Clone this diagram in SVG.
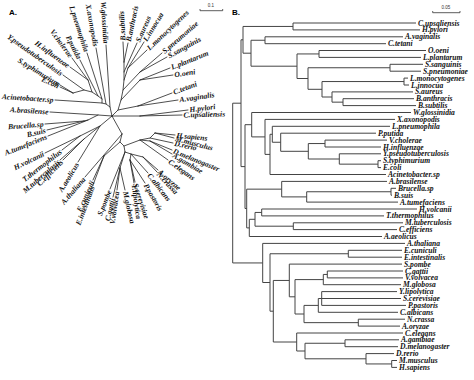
<svg xmlns="http://www.w3.org/2000/svg" width="474" height="380" viewBox="0 0 474 380">
<style>
.t{font-family:"Liberation Serif","Times New Roman",serif;font-style:italic;font-weight:bold;fill:#111;dominant-baseline:central}
.ta{font-size:7.6px}
.tb{font-size:7.6px}
.e{text-anchor:end}
.pa{fill:none;stroke:#222;stroke-width:0.8;stroke-linecap:round}
.pb{fill:none;stroke:#444;stroke-width:1}
.hd{font-family:"Liberation Sans",Arial,sans-serif;font-weight:bold;font-size:8px;fill:#000}
.sc{font-family:"Liberation Sans",Arial,sans-serif;font-size:4.5px;fill:#333;text-anchor:middle}
.sb{fill:none;stroke:#333;stroke-width:0.8}
</style>
<rect width="474" height="380" fill="#fff"/>
<text class="hd" x="9" y="15">A.</text>
<text class="hd" x="232" y="15">B.</text>
<g id="scale-a"><path class="sb" d="M200 9V10.7H222.7V9"/><text class="sc" x="211" y="7">0.1</text></g>
<g id="scale-b"><path class="sb" d="M432.7 11V12.7H460V11"/><text class="sc" x="446" y="9">0.05</text></g>

<g id="connectors-a">
<path class="pa" d="M112 116L122 134M112 116L140 116M140 116L182 115M140 116L188 110
M112 116L118 110L138 106M138 106L178 100M138 106L172 93
M118 110L121 100L140 80M140 80L173 75M140 80L170 68
M121 100L123 90L140 72M140 72L167 57M140 72L162 53
M123 90L124 80L128 68M128 68L147 50M128 68L144 42
M124 80L124 72L137 43M124 72L124 62M124 62L128 43M124 62L123 42
M112 116L110 107L106 45M110 107L106 104L96 48M106 104L102 103L55 100M102 103L102 99L87 53M102 99L98 96L80 60M98 96L92 92L88 80M88 80L72 58M88 80L70 67M92 92L84 90L63 75M84 90L73 93M73 93L60 85M73 93L60 87
M112 116L98 115L50 112M98 115L88 120L48 136M88 120L84 121M84 121L45 124M84 121L47 130
M112 116L100 126L78 162M100 126L80 136M80 136L45 153M80 136L62 150M100 126L84 139M84 139L60 160M84 139L63 160
M122 134L85 177M122 134L120 142L104 156M104 156L93 180M104 156L93 185
M120 142L124 146L125 152L110 189M125 152L120 168M120 168L113 197M120 168L117 190M120 168L125 190
M125 152L131 154L148 173M131 154L130 160M130 160L134 183M130 160L135 182M130 160L145 183M131 154L143 157M143 157L157 172M143 157L158 170
M124 146L140 140L168 160M140 140L150 141M150 141L172 154M150 141L172 150M140 140L150 138L173 143M150 138L155 133M155 133L174 138M155 133L175 135"/>
</g>

<g id="connectors-b">
<path class="pb" d="M232.7 103.2V262.95M232.7 103.2H241M232.7 262.95H262.7
M241 39.8V166.6M241 39.8H243M241 166.6H245
M243 26.45V53.2M243 26.45H293M243 53.2H251
M293 23V29.9M293 23H416M293 29.9H420
M251 40.25V66.2M251 40.25H265M251 66.2H297
M265 36.8V43.7M265 36.8H403M265 43.7H386
M297 53.95V78.5M297 53.95H319M297 78.5H308
M319 50.5V57.4M319 50.5H426M319 57.4H421
M308 67.75V89.3M308 67.75H390M308 89.3H322
M390 64.3V71.2M390 64.3H423M390 71.2H421
M322 81.55V97M322 81.55H404M322 97H332
M404 78.1V85M404 78.1H408M404 85H409
M332 91.9V102.15M332 91.9H413M332 102.15H343
M343 98.7V105.6M343 98.7H414M343 105.6H416
M245 124.7V208.5M245 124.7H251.7M245 208.5H246.7
M251.7 112.5V136.9M251.7 112.5H411M251.7 136.9H265
M265 119.4V154.4M265 119.4H395M265 154.4H270
M270 134.3V174.5M270 134.3H272.3M270 174.5H386
M272.3 126.3V142.25M272.3 126.3H390M272.3 142.25H280.7
M280.7 133.2V151.3M280.7 133.2H376M280.7 151.3H308.3
M308.3 143.55V159M308.3 143.55H325M308.3 159H339.3
M325 140.1V147M325 140.1H387M325 147H381
M339.3 153.8V164.15M339.3 153.8H381M339.3 164.15H378
M378 160.7V167.6M378 160.7H381M378 167.6H381
M246.7 189.15V227.9M246.7 189.15H281.7M246.7 227.9H249.3
M281.7 181.4V196.9M281.7 181.4H387M281.7 196.9H306.7
M306.7 191.75V202.1M306.7 191.75H391M306.7 202.1H398
M391 188.3V195.2M391 188.3H396M391 195.2H392
M249.3 219.3V236.5M249.3 219.3H255M249.3 236.5H382
M255 212.45V226.2M255 212.45H261.7M255 226.2H293.3
M261.7 209V215.9M261.7 209H417M261.7 215.9H384
M293.3 222.8V229.6M293.3 222.8H403M293.3 229.6H397
M262.7 243.4V282.5M262.7 243.4H405M262.7 282.5H270
M270 253.75V311.2M270 253.75H348.3M270 311.2H273.3
M348.3 250.3V257.2M348.3 250.3H402M348.3 257.2H402
M273.3 280.45V342M273.3 280.45H289.3M273.3 342H296.7
M289.3 264.1V296.8M289.3 264.1H402M289.3 296.8H295
M295 279.6V314M295 279.6H323.3M295 314H304
M323.3 274.45V284.7M323.3 274.45H327.3M323.3 284.7H401
M327.3 271V277.9M327.3 271H403M327.3 277.9H403
M304 305.4V322.65M304 305.4H318.3M304 322.65H358.3
M318.3 298.5V312.3M318.3 298.5H321.7M318.3 312.3H398
M321.7 291.6V305.4M321.7 291.6H397M321.7 298.5H401M321.7 305.4H406
M358.3 319.2V326.1M358.3 319.2H405M358.3 326.1H400
M296.7 333V351M296.7 333H403M296.7 351H305
M305 343.25V358.8M305 343.25H345M305 358.8H366
M345 339.8V346.7M345 339.8H399M345 346.7H398
M366 353.6V363.95M366 353.6H394M366 363.95H391.7
M391.7 360.5V367.4M391.7 360.5H397M391.7 367.4H397"/>
</g>

<g id="labels-a" class="t ta">
<g id="a-Cups" transform="translate(182,115) rotate(-1.4)"><text x="1.5">C.upsaliensis</text></g>
<g id="a-Hpyl" transform="translate(188,110) rotate(-7.1)"><text x="1.5">H.pylori</text></g>
<g id="a-Avag" transform="translate(178,100) rotate(-8.5)"><text x="1.5">A.vaginalis</text></g>
<g id="a-Ctet" transform="translate(172,93) rotate(-20.9)"><text x="1.5">C.tetani</text></g>
<g id="a-Ooen" transform="translate(173,75) rotate(-8.6)"><text x="1.5">O.oeni</text></g>
<g id="a-Lpla" transform="translate(170,68) rotate(-21.8)"><text x="1.5">L.plantarum</text></g>
<g id="a-Ssan" transform="translate(167,57) rotate(-29)"><text x="1.5">S.sanguinis</text></g>
<g id="a-Spne" transform="translate(162,53) rotate(-40.8)"><text x="1.5">S.pneumoniae</text></g>
<g id="a-Lmon" transform="translate(147,50) rotate(-43.5)"><text x="1.5">L.monocytogenes</text></g>
<g id="a-Linn" transform="translate(144,42) rotate(-58.4)"><text x="1.5">L.innocua</text></g>
<g id="a-Saur" transform="translate(137,43) rotate(-65.9)"><text x="1.5">S.aureus</text></g>
<g id="a-Bant" transform="translate(128,43) rotate(-78.1)"><text x="1.5">B.anthracis</text></g>
<g id="a-Bsub" transform="translate(123,42) rotate(-92.9)"><text x="1.5">B.subtilis</text></g>
<g id="a-Wglo" transform="translate(106,45) rotate(86.5)"><text class="e" x="-1.5">W.glossinidia</text></g>
<g id="a-Xaxo" transform="translate(96,48) rotate(79.9)"><text class="e" x="-1.5">X.axonopodis</text></g>
<g id="a-Acin" transform="translate(55,100) rotate(3.7)"><text class="e" x="-1.5">Acinetobacter.sp</text></g>
<g id="a-Lpne" transform="translate(87,53) rotate(72)"><text class="e" x="-1.5">L.pneumophila</text></g>
<g id="a-Pput" transform="translate(80,60) rotate(63.4)"><text class="e" x="-1.5">P.putida</text></g>
<g id="a-Vcho" transform="translate(72,58) rotate(54)"><text class="e" x="-1.5">V.cholerae</text></g>
<g id="a-Hinf" transform="translate(70,67) rotate(35.8)"><text class="e" x="-1.5">H.influenzae</text></g>
<g id="a-Ypse" transform="translate(63,75) rotate(35.5)"><text class="e" x="-1.5">Y.pseudotuberculosis</text></g>
<g id="a-Styp" transform="translate(60,85) rotate(31.6)"><text class="e" x="-1.5">S.typhimurium</text></g>
<g id="a-Ecol" transform="translate(60,87) rotate(24.8)"><text class="e" x="-1.5">E.coli</text></g>
<g id="a-Abra" transform="translate(50,112) rotate(3.6)"><text class="e" x="-1.5">A.brasilense</text></g>
<g id="a-Bruc" transform="translate(45,124) rotate(-4.4)"><text class="e" x="-1.5">Brucella.sp</text></g>
<g id="a-Bsui" transform="translate(47,130) rotate(-13.7)"><text class="e" x="-1.5">B.suis</text></g>
<g id="a-Atum" transform="translate(48,136) rotate(-21.8)"><text class="e" x="-1.5">A.tumefaciens</text></g>
<g id="a-Hvol" transform="translate(45,153) rotate(-25.9)"><text class="e" x="-1.5">H.volcanii</text></g>
<g id="a-Tthe" transform="translate(62,150) rotate(-37.9)"><text class="e" x="-1.5">T.thermophilus</text></g>
<g id="a-Mtub" transform="translate(60,160) rotate(-41.2)"><text class="e" x="-1.5">M.tuberculosis</text></g>
<g id="a-Ceff" transform="translate(63,160) rotate(-45)"><text class="e" x="-1.5">C.efficiens</text></g>
<g id="a-Aaeo" transform="translate(78,162) rotate(-58.6)"><text class="e" x="-1.5">A.aeolicus</text></g>
<g id="a-Atha" transform="translate(85,177) rotate(-49.3)"><text class="e" x="-1.5">A.thaliana</text></g>
<g id="a-Ecun" transform="translate(93,180) rotate(-65.4)"><text class="e" x="-1.5">E.cuniculi</text></g>
<g id="a-Eint" transform="translate(93,185) rotate(-69.2)"><text class="e" x="-1.5">E.intestinalis</text></g>
<g id="a-Spom" transform="translate(110,189) rotate(-67.9)"><text class="e" x="-1.5">S.pombe</text></g>
<g id="a-Cgat" transform="translate(113,197) rotate(-76.4)"><text class="e" x="-1.5">C.gattii</text></g>
<g id="a-Vvol" transform="translate(117,190) rotate(-82.2)"><text class="e" x="-1.5">V.volvacea</text></g>
<g id="a-Mglo" transform="translate(125,190) rotate(77.2)"><text x="1.5">M.globosa</text></g>
<g id="a-Ylip" transform="translate(134,183) rotate(82.6)"><text x="1.5">Y.lipolytica</text></g>
<g id="a-Scer" transform="translate(135,182) rotate(72)"><text x="1.5">S.cerevisiae</text></g>
<g id="a-Ppas" transform="translate(145,183) rotate(60)"><text x="1.5">P.pastoris</text></g>
<g id="a-Calb" transform="translate(148,173) rotate(52)"><text x="1.5">C.albicans</text></g>
<g id="a-Ncra" transform="translate(157,172) rotate(47)"><text x="1.5">N.crassa</text></g>
<g id="a-Aory" transform="translate(158,170) rotate(40.9)"><text x="1.5">A.oryzae</text></g>
<g id="a-Cele" transform="translate(168,160) rotate(35.5)"><text x="1.5">C.elegans</text></g>
<g id="a-Agam" transform="translate(172,154) rotate(30.6)"><text x="1.5">A.gambiae</text></g>
<g id="a-Dmel" transform="translate(172,150) rotate(22.2)"><text x="1.5">D.melanogaster</text></g>
<g id="a-Drer" transform="translate(173,143) rotate(12.3)"><text x="1.5">D.rerio</text></g>
<g id="a-Mmus" transform="translate(174,138) rotate(14.7)"><text x="1.5">M.musculus</text></g>
<g id="a-Hsap" transform="translate(175,135) rotate(5.7)"><text x="1.5">H.sapiens</text></g>
</g>

<g id="labels-b" class="t tb">
<g id="b-Cups"><text x="418" y="23">C.upsaliensis</text></g>
<g id="b-Hpyl"><text x="422" y="29.9">H.pylori</text></g>
<g id="b-Avag"><text x="405" y="36.8">A.vaginalis</text></g>
<g id="b-Ctet"><text x="388" y="43.7">C.tetani</text></g>
<g id="b-Ooen"><text x="428" y="50.5">O.oeni</text></g>
<g id="b-Lpla"><text x="423" y="57.4">L.plantarum</text></g>
<g id="b-Ssan"><text x="425" y="64.3">S.sanguinis</text></g>
<g id="b-Spne"><text x="423" y="71.2">S.pneumoniae</text></g>
<g id="b-Lmon"><text x="410" y="78.1">L.monocytogenes</text></g>
<g id="b-Linn"><text x="411" y="85">L.innocua</text></g>
<g id="b-Saur"><text x="415" y="91.9">S.aureus</text></g>
<g id="b-Bant"><text x="416" y="98.7">B.anthracis</text></g>
<g id="b-Bsub"><text x="418" y="105.6">B.subtilis</text></g>
<g id="b-Wglo"><text x="413" y="112.5">W.glossinidia</text></g>
<g id="b-Xaxo"><text x="397" y="119.4">X.axonopodis</text></g>
<g id="b-Lpne"><text x="392" y="126.3">L.pneumophila</text></g>
<g id="b-Pput"><text x="378" y="133.2">P.putida</text></g>
<g id="b-Vcho"><text x="389" y="140.1">V.cholerae</text></g>
<g id="b-Hinf"><text x="383" y="147">H.influenzae</text></g>
<g id="b-Ypse"><text x="383" y="153.8">Y.pseudotuberculosis</text></g>
<g id="b-Styp"><text x="383" y="160.7">S.typhimurium</text></g>
<g id="b-Ecol"><text x="383" y="167.6">E.coli</text></g>
<g id="b-Acin"><text x="388" y="174.5">Acinetobacter.sp</text></g>
<g id="b-Abra"><text x="389" y="181.4">A.brasilense</text></g>
<g id="b-Bruc"><text x="398" y="188.3">Brucella.sp</text></g>
<g id="b-Bsui"><text x="394" y="195.2">B.suis</text></g>
<g id="b-Atum"><text x="400" y="202.1">A.tumefaciens</text></g>
<g id="b-Hvol"><text x="419" y="209">H.volcanii</text></g>
<g id="b-Tthe"><text x="386" y="215.9">T.thermophilus</text></g>
<g id="b-Mtub"><text x="405" y="222.8">M.tuberculosis</text></g>
<g id="b-Ceff"><text x="399" y="229.6">C.efficiens</text></g>
<g id="b-Aaeo"><text x="384" y="236.5">A.aeolicus</text></g>
<g id="b-Atha"><text x="407" y="243.4">A.thaliana</text></g>
<g id="b-Ecun"><text x="404" y="250.3">E.cuniculi</text></g>
<g id="b-Eint"><text x="404" y="257.2">E.intestinalis</text></g>
<g id="b-Spom"><text x="404" y="264.1">S.pombe</text></g>
<g id="b-Cgat"><text x="405" y="271">C.gattii</text></g>
<g id="b-Vvol"><text x="405" y="277.9">V.volvacea</text></g>
<g id="b-Mglo"><text x="403" y="284.7">M.globosa</text></g>
<g id="b-Ylip"><text x="399" y="291.6">Y.lipolytica</text></g>
<g id="b-Scer"><text x="403" y="298.5">S.cerevisiae</text></g>
<g id="b-Ppas"><text x="408" y="305.4">P.pastoris</text></g>
<g id="b-Calb"><text x="400" y="312.3">C.albicans</text></g>
<g id="b-Ncra"><text x="407" y="319.2">N.crassa</text></g>
<g id="b-Aory"><text x="402" y="326.1">A.oryzae</text></g>
<g id="b-Cele"><text x="405" y="333">C.elegans</text></g>
<g id="b-Agam"><text x="401" y="339.8">A.gambiae</text></g>
<g id="b-Dmel"><text x="400" y="346.7">D.melanogaster</text></g>
<g id="b-Drer"><text x="396" y="353.6">D.rerio</text></g>
<g id="b-Mmus"><text x="399" y="360.5">M.musculus</text></g>
<g id="b-Hsap"><text x="399" y="367.4">H.sapiens</text></g>
</g>
</svg>
